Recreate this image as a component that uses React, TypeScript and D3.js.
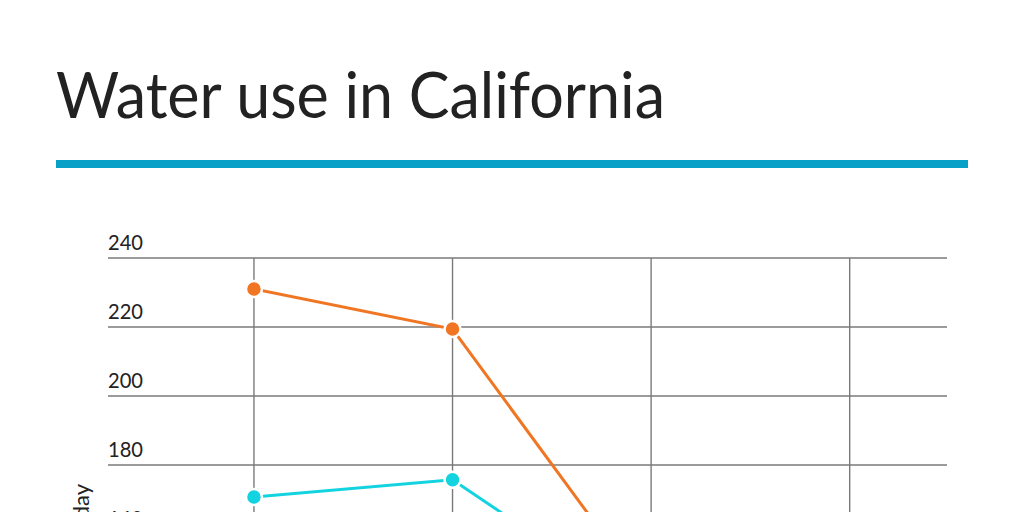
import * as d3 from "d3";

const years = ["2010", "2012", "2014", "2016"];
const urbanUse = [231, 219.4, 141, 132];
const residentialUse = [170.7, 175.7, 137, 126];
const yTicks = [100, 120, 140, 160, 180, 200, 220, 240];

const W = 1024;
const H = 860;

export default function App() {
  const x = d3.scaleLinear().domain([-0.735, 3.49]).range([108, 947]);
  const y = d3.scaleLinear().domain([100, 240]).range([741, 258]);

  const line = d3
    .line<number>()
    .x((_, i) => x(i))
    .y((d) => y(d));

  const series = [
    { values: urbanUse, color: "#f07623" },
    { values: residentialUse, color: "#14d3e0" },
  ];

  return (
    <div style={{ position: "absolute", left: 0, top: 0 }}>
      <svg width={W} height={H} style={{ display: "block", fontFamily: "Lato, sans-serif" }}>
        <rect width={W} height={H} fill="#fff" />
        <text
          x={56}
          y={118}
          fontSize={63}
          fill="#222"
          textLength={609}
          lengthAdjust="spacingAndGlyphs"
        >
          Water use in California
        </text>
        <rect x={56} y={160} width={912} height={8} fill="#08a0c6" />

        {/* horizontal grid + labels */}
        {yTicks.map((t) => (
          <g key={t}>
            <line x1={108} x2={947} y1={y(t)} y2={y(t)} stroke="#7a7a7a" strokeWidth={1.4} />
            <text x={108} y={y(t) - 8} fontSize={21} fill="#222" textLength={35} lengthAdjust="spacingAndGlyphs">
              {t}
            </text>
          </g>
        ))}

        {/* vertical grid */}
        {years.map((yr, i) => (
          <g key={yr}>
            <line x1={x(i)} x2={x(i)} y1={y(240)} y2={y(100)} stroke="#7a7a7a" strokeWidth={1.4} />
            <text x={x(i)} y={y(100) + 28} fontSize={21} fill="#222" textAnchor="middle">
              {yr}
            </text>
          </g>
        ))}

        <text
          transform={`translate(89,484) rotate(-90)`}
          fontSize={22}
          fill="#222"
          textAnchor="end"
        >
          Gallons per person per day
        </text>

        {series.map((s, k) => (
          <g key={k}>
            <path d={line(s.values) ?? ""} fill="none" stroke={s.color} strokeWidth={3} />
            {s.values.map((v, i) => (
              <circle key={i} cx={x(i)} cy={y(v)} r={8} fill={s.color} stroke="#fff" strokeWidth={2.5} />
            ))}
          </g>
        ))}
      </svg>
    </div>
  );
}
